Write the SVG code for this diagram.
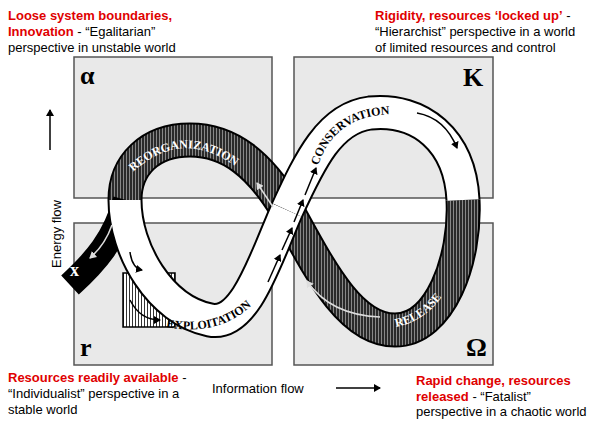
<svg xmlns="http://www.w3.org/2000/svg" width="605" height="428" viewBox="0 0 605 428">
<defs>
<pattern id="hatch" width="3" height="4" patternUnits="userSpaceOnUse"><rect width="3" height="4" fill="#2a2a2a"/><rect width="1" height="4" fill="#888"/></pattern>
<pattern id="lhatch" width="3" height="4" patternUnits="userSpaceOnUse"><rect width="3" height="4" fill="#fff"/><rect width="1" height="4" fill="#333"/></pattern>
<marker id="ah" markerWidth="8" markerHeight="8" refX="6" refY="4" orient="auto" markerUnits="userSpaceOnUse"><path d="M0,0 L7,4 L0,8 Z" fill="#000"/></marker>
<marker id="aw" markerWidth="8" markerHeight="8" refX="6" refY="4" orient="auto" markerUnits="userSpaceOnUse"><path d="M0,0 L7,4 L0,8 Z" fill="#ddd"/></marker>
<path id="tpR" d="M133,172 Q190,120 254,182"/>
<path id="tpC" d="M318,166 Q338,104 420,116"/>
<path id="tpE" d="M166,327 Q232,340 270,284"/>
<path id="tpL" d="M396,327 Q432,320 452,280"/>
</defs>
<style>
.box{fill:#e9e9e9;stroke:#555;stroke-width:1.5}
.t{font-family:"Liberation Sans",Arial,sans-serif;font-size:13px;fill:#000}
.r{fill:#e00000;font-weight:bold}
.g{font-family:"Liberation Serif","Times New Roman",serif;font-weight:bold;font-size:26px}
.edge{fill:none;stroke:#000;stroke-width:35}
.rl{font-family:"Liberation Serif","Times New Roman",serif;font-weight:bold;font-size:12px}
</style>
<g id="boxes">
<rect class="box" x="74" y="57" width="198" height="141"/>
<rect class="box" x="294" y="57" width="199" height="141"/>
<rect class="box" x="74" y="223" width="198" height="142"/>
<rect class="box" x="294" y="223" width="199" height="142"/>
<text class="g" x="80" y="84">α</text>
<text class="g" x="463" y="86">K</text>
<text class="g" x="80" y="356">r</text>
<text class="g" x="466" y="356">Ω</text>
</g>
<g id="ribbon">
<path class="edge" d="M463,200 C466,260 440,330 395,330 C350,330 320,270 287,210"/>
<path d="M463,200 C466,260 440,330 395,330 C350,330 320,270 287,210" fill="none" stroke="url(#hatch)" stroke-width="31"/>
<path class="edge" d="M287,210 C260,165 230,140 190,140 C150,140 125,165 125,200"/>
<path d="M287,210 C260,165 230,140 190,140 C150,140 125,165 125,200" fill="none" stroke="url(#hatch)" stroke-width="31"/>
<path d="M126,200 C115,240 95,262 70,285" fill="none" stroke="#000" stroke-width="26"/>
<text x="70" y="276" font-family="Liberation Serif,serif" font-weight="bold" font-size="18" fill="#fff">x</text>
<rect x="123" y="273" width="52" height="54" fill="url(#lhatch)" stroke="#000" stroke-width="1.5"/>
<path class="edge" d="M125,200 C125,250 160,310 210,320 C245,327 265,260 287,210"/>
<path d="M125,200 C125,250 160,310 210,320 C245,327 265,260 287,210" fill="none" stroke="#fff" stroke-width="31"/>
<path class="edge" d="M287,210 C310,160 330,118 370,113 C420,108 460,140 463,200"/>
<path d="M287,210 C310,160 330,118 370,113 C420,108 460,140 463,200" fill="none" stroke="#fff" stroke-width="31"/>
<text class="rl" fill="#fff"><textPath href="#tpR">REORGANIZATION</textPath></text>
<text class="rl" fill="#000"><textPath href="#tpC">CONSERVATION</textPath></text>
<text class="rl" fill="#000"><textPath href="#tpE">EXPLOITATION</textPath></text>
<text class="rl" fill="#fff"><textPath href="#tpL">RELEASE</textPath></text>
</g>
<g id="connectors" fill="none" stroke-width="1.5">
<path d="M268,282 L280,255" stroke="#000" marker-end="url(#ah)"/>
<path d="M282,250 L292,228" stroke="#000" marker-end="url(#ah)"/>
<path d="M294,222 L303,200" stroke="#000" marker-end="url(#ah)"/>
<path d="M305,195 L316,168" stroke="#000" marker-end="url(#ah)"/>
<path d="M417,113 Q445,118 457,148" stroke="#000" marker-end="url(#ah)"/>
<path d="M130,252 Q132,268 142,270" stroke="#000" marker-end="url(#ah)"/>
<path d="M130,300 Q140,320 160,320" stroke="#000" marker-end="url(#ah)"/>
<path d="M273,207 L257,183" stroke="#ddd" marker-end="url(#aw)"/>
<path d="M380,317 Q330,315 307,281" stroke="#ddd" marker-end="url(#aw)"/>
<path d="M112,225 Q105,245 90,258" stroke="#ddd" marker-end="url(#aw)"/>
<path d="M336,388 L380,388" stroke="#000" marker-end="url(#ah)"/>
<path d="M50,150 L50,110" stroke="#000" marker-end="url(#ah)"/>
</g>
<g id="labels">
<text class="t" x="8" y="20"><tspan class="r">Loose system boundaries,</tspan></text>
<text class="t" x="8" y="36"><tspan class="r">Innovation</tspan> - “Egalitarian”</text>
<text class="t" x="8" y="52">perspective in unstable world</text>
<text class="t" x="375" y="20"><tspan class="r">Rigidity, resources ‘locked up’</tspan> -</text>
<text class="t" x="375" y="36">“Hierarchist” perspective in a world</text>
<text class="t" x="375" y="52">of limited resources and control</text>
<text class="t" x="8" y="382"><tspan class="r">Resources readily available</tspan> -</text>
<text class="t" x="8" y="398">“Individualist” perspective in a</text>
<text class="t" x="8" y="414">stable world</text>
<text class="t" x="416" y="385"><tspan class="r">Rapid change, resources</tspan></text>
<text class="t" x="416" y="401"><tspan class="r">released</tspan> - “Fatalist”</text>
<text class="t" x="416" y="416">perspective in a chaotic world</text>
<text class="t" x="212" y="393" font-size="14">Information flow</text>
<text class="t" font-size="14" transform="translate(61,268) rotate(-90)">Energy flow</text>
</g>
</svg>
